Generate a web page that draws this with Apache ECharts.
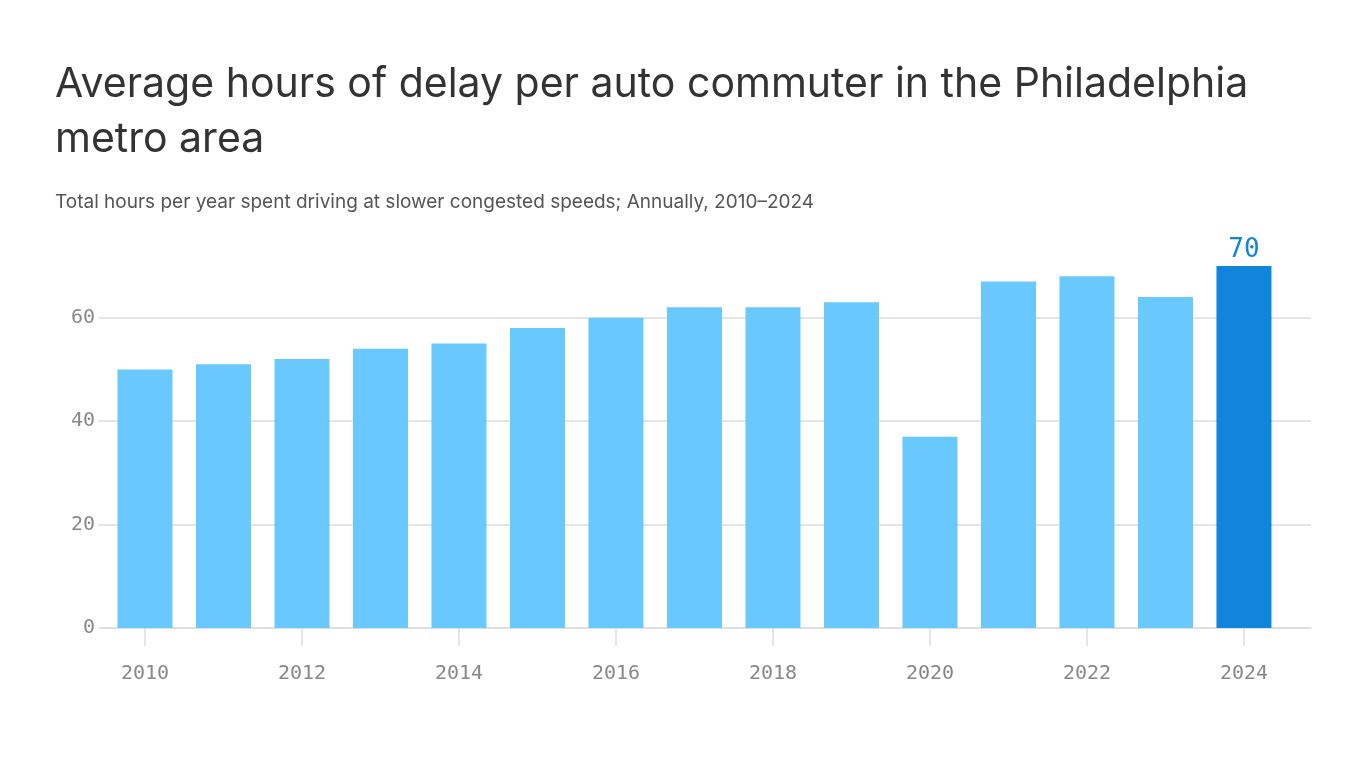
<!DOCTYPE html>
<html>
<head>
<meta charset="utf-8">
<script src="https://cdn.jsdelivr.net/npm/echarts@6/dist/echarts.min.js"></script>
<style>
  html, body { margin: 0; padding: 0; background: #fff; }
  #chart { width: 1366px; height: 768px; }
</style>
</head>
<body>
<div id="chart"></div>
<script>
var years = [2010, 2011, 2012, 2013, 2014, 2015, 2016, 2017, 2018, 2019, 2020, 2021, 2022, 2023, 2024];
var hours = [50, 51, 52, 54, 55, 58, 60, 62, 62, 63, 37, 67, 68, 64, 70];
var yearTicks = [2010, 2012, 2014, 2016, 2018, 2020, 2022, 2024];

var mono = "'DejaVu Sans Mono', monospace";
var lastIdx = years.length - 1;

var barData = years.map(function (y, i) {
  var item = { value: [y, hours[i]] };
  if (i === lastIdx) {
    item.itemStyle = { color: "#1184dc" };
    item.label = {
      show: true,
      position: "top",
      distance: 3,
      color: "#1184dc",
      fontFamily: mono,
      fontSize: 26,
      formatter: function (p) { return p.value[1]; }
    };
  }
  return item;
});

var chart = echarts.init(document.getElementById("chart"), null, { renderer: "canvas" });

var option = {
  animation: false,
  backgroundColor: "#fff",
  title: [
    {
      text: "Average hours of delay per auto commuter in the Philadelphia\nmetro area",
      left: 50,
      top: 52,
      textStyle: {
        fontFamily: "Inter, 'Noto Sans', sans-serif",
        fontSize: 41,
        fontWeight: 400,
        color: "#333",
        lineHeight: 55
      }
    },
    {
      text: "Total hours per year spent driving at slower congested speeds; Annually, 2010\u20132024",
      left: 50,
      top: 188,
      textStyle: {
        fontFamily: "Inter, 'Noto Sans', sans-serif",
        fontSize: 19,
        fontWeight: 400,
        color: "#555"
      }
    }
  ],
  grid: {
    left: 99,
    right: 55,
    top: 266,
    bottom: 140
  },
  xAxis: {
    type: "value",
    min: 2009.414,
    max: 2024.854,
    splitLine: { show: false },
    axisLine: { show: true, lineStyle: { color: "#dddddd", width: 1.5 } },
    axisTick: {
      show: true,
      customValues: yearTicks,
      length: 18,
      lineStyle: { color: "#dddddd", width: 1.5 }
    },
    axisLabel: {
      customValues: yearTicks,
      margin: 36,
      color: "#888",
      fontFamily: mono,
      fontSize: 20,
      formatter: function (v) { return String(v); }
    }
  },
  yAxis: {
    type: "value",
    min: 0,
    max: 70,
    interval: 20,
    axisLine: { show: false },
    axisTick: { show: false },
    splitLine: {
      show: true,
      showMaxLine: false,
      lineStyle: { color: "#dddddd", width: 1.5 }
    },
    axisLabel: {
      showMaxLabel: false,
      margin: 4,
      color: "#888",
      fontFamily: mono,
      fontSize: 20
    }
  },
  series: [
    {
      type: "bar",
      barWidth: 55,
      itemStyle: { color: "#69c8fd" },
      data: barData
    }
  ]
};

chart.setOption(option);
window.addEventListener("resize", chart.resize);
</script>
</body>
</html>
